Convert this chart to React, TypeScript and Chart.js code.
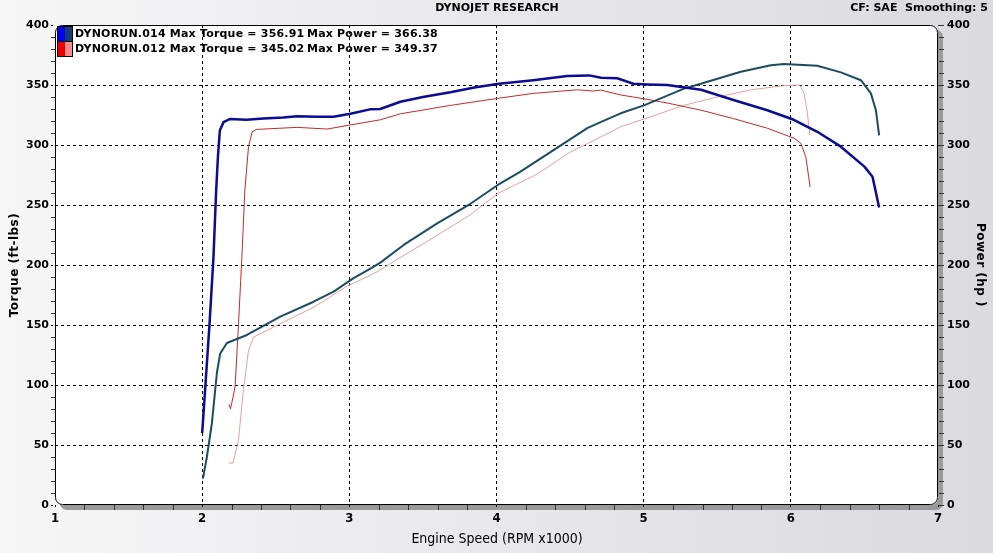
import React, { useEffect, useRef } from 'react';
import { Chart, registerables } from 'chart.js';

Chart.register(...registerables);

// header / axis text
const headerTitle = 'DYNOJET RESEARCH';
const headerInfo = 'CF: SAE  Smoothing: 5';
const xTitle = 'Engine Speed (RPM x1000)';
const leftTitle = 'Torque (ft-lbs)';
const rightTitle = 'Power (hp )';

// legend
const runNames = ['DYNORUN.014', 'DYNORUN.012'];
const maxTorque = ['356.91', '345.02'];
const maxPower = ['366.38', '349.37'];

// tick labels
const xTicks = [1, 2, 3, 4, 5, 6, 7];
const yTicks = [0, 50, 100, 150, 200, 250, 300, 350, 400];

// DYNORUN.014 torque (ft-lbs) vs rpm x1000
const torque014Rpm = [2.0, 2.02, 2.05, 2.077, 2.095, 2.107, 2.12, 2.145, 2.19, 2.3, 2.417, 2.55, 2.644, 2.78, 2.893, 3.007, 3.14, 3.21, 3.347, 3.5, 3.687, 3.85, 4.016, 4.25, 4.48, 4.63, 4.71, 4.82, 4.93, 5.025, 5.16, 5.39, 5.61, 5.84, 6.02, 6.18, 6.34, 6.5, 6.555, 6.6];
const torque014 = [60, 96, 151, 207, 262, 290, 312, 319, 321.7, 321, 322, 323, 324, 323.5, 323.6, 326, 329.7, 330, 336, 340, 344, 348, 351, 354, 357.5, 358, 356, 355.6, 351, 350.5, 350, 346, 337.5, 329, 321, 311, 298.6, 282, 273.6, 248];

// DYNORUN.014 power (hp)
const power014Rpm = [2.005, 2.032, 2.066, 2.1, 2.122, 2.168, 2.304, 2.531, 2.757, 2.893, 3.029, 3.143, 3.211, 3.369, 3.597, 3.823, 4.009, 4.163, 4.39, 4.617, 4.707, 4.844, 5.002, 5.274, 5.388, 5.66, 5.864, 5.954, 6.18, 6.34, 6.476, 6.544, 6.578, 6.6];
const power014 = [22, 40, 68, 110, 126, 135, 141.7, 157, 169.4, 177.8, 189, 197, 202, 216.7, 234.7, 251, 266.7, 277.8, 296, 314, 319, 326.4, 333, 347, 351, 361, 366.4, 367.5, 366, 360.5, 354, 343, 329, 308];

// DYNORUN.012 torque
const torque012Rpm = [2.183, 2.192, 2.21, 2.224, 2.247, 2.27, 2.29, 2.315, 2.34, 2.37, 2.644, 2.85, 3.007, 3.21, 3.347, 3.687, 4.016, 4.25, 4.55, 4.66, 4.707, 4.844, 4.93, 5.025, 5.16, 5.39, 5.61, 5.84, 6.022, 6.068, 6.102, 6.131];
const torque012 = [84, 80, 90, 99, 151, 207, 262.5, 298.6, 311, 313, 314.7, 313.3, 316.7, 321, 326, 333, 339, 343, 346, 345, 345.8, 341.7, 340, 338, 335, 329, 322, 314, 305.6, 301.4, 290, 265];

// DYNORUN.012 power
const power012Rpm = [2.18, 2.21, 2.247, 2.28, 2.315, 2.35, 2.53, 2.76, 2.98, 3.19, 3.37, 3.6, 3.82, 4.01, 4.28, 4.5, 4.73, 4.84, 5.05, 5.27, 5.5, 5.73, 5.95, 6.06, 6.09, 6.11, 6.13];
const power012 = [35, 35, 54, 96, 129, 140, 151, 165, 182, 194.4, 208, 225, 241.7, 259.7, 276, 294, 308, 315, 323.6, 333, 340, 346, 349.4, 350, 343, 329, 308];

const pts = (xs: number[], ys: number[]) => xs.map((x, i) => ({ x, y: ys[i] }));

const frame = {
  id: 'dynoFrame',
  beforeDraw(chart: any) {
    const { ctx, chartArea: a, width, height } = chart;
    ctx.save();
    const g = ctx.createLinearGradient(0, 0, width, 0);
    g.addColorStop(0, '#f6f6f7');
    g.addColorStop(1, '#dadadf');
    ctx.fillStyle = g;
    ctx.fillRect(0, 0, width, height);
    // drop shadow
    ctx.fillStyle = '#9a9a9a';
    ctx.beginPath();
    ctx.roundRect(a.left + 5, a.top + 5, a.width, a.height, 7);
    ctx.fill();
    ctx.fillStyle = '#ffffff';
    ctx.beginPath();
    ctx.roundRect(a.left, a.top, a.width, a.height, 7);
    ctx.fill();
    ctx.restore();
  },
  afterDraw(chart: any) {
    const { ctx, chartArea: a } = chart;
    const ys = chart.scales.y;
    const xs = chart.scales.x;
    ctx.save();
    ctx.strokeStyle = '#000';
    ctx.lineWidth = 1;
    ctx.beginPath();
    ctx.roundRect(a.left + 0.5, a.top + 0.5, a.width - 1, a.height - 1, 7);
    ctx.stroke();

    // minor ticks
    ctx.strokeStyle = '#333';
    ctx.beginPath();
    for (let v = 0; v <= 400; v += 10) {
      if (v % 50 === 0) continue;
      const y = Math.round(ys.getPixelForValue(v)) + 0.5;
      ctx.moveTo(a.left - 4, y);
      ctx.lineTo(a.left, y);
      ctx.moveTo(a.right + 1, y);
      ctx.lineTo(a.right + 6, y);
    }
    for (let i = 0; i <= 30; i++) {
      if (i % 5 === 0) continue;
      const x = Math.round(xs.getPixelForValue(1 + i * 0.2)) + 0.5;
      ctx.moveTo(x, a.bottom);
      ctx.lineTo(x, a.bottom + 5);
    }
    ctx.stroke();

    // legend
    const swatches = [
      ['#0000f2', '#173c72'],
      ['#ee0000', '#ff8a8a'],
    ];
    ctx.font = 'bold 11px "DejaVu Sans"';
    (ctx as any).letterSpacing = '0.2px';
    ctx.textBaseline = 'middle';
    ctx.textAlign = 'left';
    runNames.forEach((name, i) => {
      const top = a.top + 1 + i * 15;
      ctx.fillStyle = swatches[i][0];
      ctx.fillRect(a.left + 2, top, 8, 15);
      ctx.fillStyle = swatches[i][1];
      ctx.fillRect(a.left + 10, top, 7, 15);
      ctx.strokeStyle = '#000';
      ctx.strokeRect(a.left + 2.5, top + 0.5, 15, 15);
      ctx.fillStyle = '#000';
      ctx.fillText(`${name} Max Torque = ${maxTorque[i]}`, a.left + 20, top + 8);
      ctx.fillText(`Max Power = ${maxPower[i]}`, a.left + 252, top + 8);
    });

    // header
    (ctx as any).letterSpacing = '0px';
    ctx.font = 'bold 11px "DejaVu Sans"';
    ctx.textAlign = 'center';
    ctx.fillText(headerTitle, 497, 8);
    ctx.textAlign = 'right';
    ctx.fillText(headerInfo, 988, 8);

    // axis titles
    ctx.textAlign = 'center';
    ctx.font = '14px "DejaVu Sans Condensed"';
    ctx.fillText(xTitle, 497, 539);
    ctx.font = 'bold 12px "DejaVu Sans"';
    (ctx as any).letterSpacing = '0.5px';
    ctx.save();
    ctx.translate(15, 265);
    ctx.rotate(-Math.PI / 2);
    ctx.fillText(leftTitle, 0, 0);
    ctx.restore();
    ctx.save();
    ctx.translate(980, 265);
    ctx.rotate(Math.PI / 2);
    ctx.fillText(rightTitle, 0, 0);
    ctx.restore();
    ctx.restore();
  },
};

const edgeOnly = (vals: number[]) => (c: any) =>
  vals.includes(c.tick?.value) ? 'rgba(0,0,0,0)' : '#000';

const App: React.FC = () => {
  const canvasRef = useRef<HTMLCanvasElement>(null);

  useEffect(() => {
    if (!canvasRef.current) return;
    const yFont = { family: '"DejaVu Sans"', size: 11, weight: 'bold' as const };
    const chart = new Chart(canvasRef.current, {
      type: 'line',
      data: {
        datasets: [
          {
            label: 'DYNORUN.014 torque',
            data: pts(torque014Rpm, torque014),
            yAxisID: 'y',
            borderColor: '#0b0b94',
            borderWidth: 2.5,
          },
          {
            label: 'DYNORUN.014 power',
            data: pts(power014Rpm, power014),
            yAxisID: 'y1',
            borderColor: '#1b4d5e',
            borderWidth: 2,
          },
          {
            label: 'DYNORUN.012 torque',
            data: pts(torque012Rpm, torque012),
            yAxisID: 'y',
            borderColor: '#c42a2a',
            borderWidth: 1,
          },
          {
            label: 'DYNORUN.012 power',
            data: pts(power012Rpm, power012),
            yAxisID: 'y1',
            borderColor: '#e6a0a0',
            borderWidth: 1,
          },
        ],
      },
      options: {
        animation: false,
        responsive: false,
        devicePixelRatio: 1,
        layout: { padding: { top: 25, left: 0, right: 0, bottom: 0 } },
        elements: {
          point: { radius: 0 },
          line: { tension: 0, borderJoinStyle: 'round' },
        },
        plugins: { legend: { display: false }, tooltip: { enabled: false } },
        scales: {
          x: {
            type: 'linear',
            min: 1,
            max: 7,
            afterBuildTicks: (s: any) => {
              s.ticks = xTicks.map((v) => ({ value: v }));
            },
            afterFit: (s: any) => {
              s.height = 48;
            },
            border: { display: false, dash: [3, 3] },
            grid: {
              color: edgeOnly([1, 7]),
              tickColor: '#000',
              tickLength: 4,
              tickBorderDash: [2, 2],
            },
            ticks: {
              color: '#000',
              padding: 2,
              maxRotation: 0,
              font: { family: '"DejaVu Sans Condensed"', size: 13, weight: 'bold' },
            },
          },
          y: {
            type: 'linear',
            position: 'left',
            min: 0,
            max: 400,
            afterBuildTicks: (s: any) => {
              s.ticks = yTicks.map((v) => ({ value: v }));
            },
            afterFit: (s: any) => {
              s.width = 55;
            },
            border: { display: false, dash: [3, 3] },
            grid: {
              color: edgeOnly([0, 400]),
              tickColor: '#000',
              tickLength: 4,
              tickBorderDash: [2, 2],
            },
            ticks: { color: '#000', padding: 2, font: yFont },
          },
          y1: {
            type: 'linear',
            position: 'right',
            min: 0,
            max: 400,
            afterBuildTicks: (s: any) => {
              s.ticks = yTicks.map((v) => ({ value: v }));
            },
            afterFit: (s: any) => {
              s.width = 55;
            },
            border: { display: false },
            grid: { drawOnChartArea: false, tickColor: '#333', tickLength: 6 },
            ticks: { color: '#000', padding: 3, font: yFont },
          },
        },
      },
      plugins: [frame],
    });

    return () => {
      chart.destroy();
    };
  }, []);

  return (
    <div style={{ position: 'absolute', left: 0, top: 0, width: 993, height: 553 }}>
      <canvas ref={canvasRef} width={993} height={553} />
    </div>
  );
};

export default App;
